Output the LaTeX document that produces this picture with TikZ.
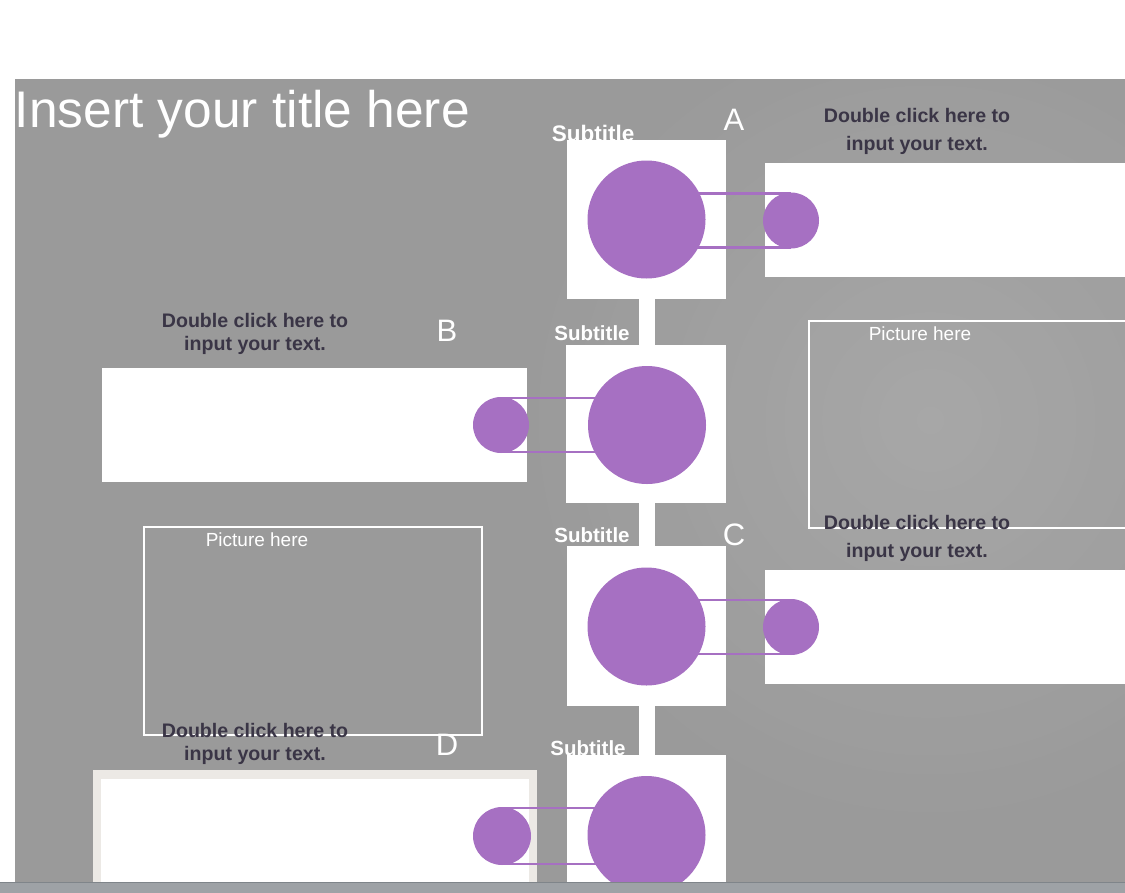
\documentclass[tikz,border=0pt]{standalone}
\usepackage{fontspec}
\setmainfont{Liberation Sans}
\definecolor{bggray}{HTML}{9A9A9A}
\definecolor{purp}{HTML}{A670C2}
\definecolor{darktxt}{HTML}{3A3546}
\definecolor{stripgray}{HTML}{9EA2A6}
\definecolor{stripline}{HTML}{7F858A}
\definecolor{framegray}{HTML}{ECE9E5}
\tikzset{
  sq/.style={fill=white, draw=none, minimum width=159pt, minimum height=159pt, inner sep=0pt},
  bigc/.style={circle, fill=purp, draw=none, minimum size=118pt, inner sep=0pt},
  smallc/.style={circle, fill=purp, draw=none, minimum size=56pt, inner sep=0pt},
  pline/.style={draw=purp, line width=2.5pt},
  bar/.style={draw=white, line width=16pt},
  wrect/.style={fill=white, draw=none, inner sep=0pt},
  pframe/.style={draw=white, line width=2pt},
  subt/.style={text=white, font=\bfseries\fontsize{20.5}{24}\selectfont, inner sep=0pt, anchor=base},
  letter/.style={text=white, font=\fontsize{31}{36}\selectfont, inner sep=0pt},
  dtxt/.style={text=darktxt, font=\bfseries\fontsize{19.6}{28}\selectfont, align=center, inner sep=0pt},
  dtxtb/.style={text=darktxt, font=\bfseries\fontsize{19.6}{23.5}\selectfont, align=center, inner sep=0pt},
  pictxt/.style={text=white, font=\fontsize{19}{22}\selectfont, inner sep=0pt},
}
\begin{document}
\begin{tikzpicture}[x=1pt,y=-1pt]
\useasboundingbox (0,0) rectangle (1125,892);
\clip (0,0) rectangle (1125,892);
\fill[white] (0,0) rectangle (1125,892);
\fill[bggray] (15,79) rectangle (1125,882);
\begin{scope}
\clip (15,79) rectangle (1125,882);
\shade[inner color=white!22!bggray, outer color=bggray, opacity=0.6] (930,420) circle (420);
\end{scope}

% title
\node[text=white, font=\fontsize{51.5}{58}\selectfont, anchor=base west, inner sep=0pt] (title) at (14.5,127) {Insert your title here};

% subtitles (behind squares)
\node[subt, font=\bfseries\fontsize{22.5}{26}\selectfont] (subA) at (593,141) {Subtitle};
\node[subt] (subB) at (592,340) {Subtitle};
\node[subt] (subC) at (592,542) {Subtitle};
\node[subt] (subD) at (588,755) {Subtitle};

% squares
\node[sq] (sqA) at (646.5,219.5) {};
\node[sq, minimum width=160pt, minimum height=158pt] (sqB) at (646,424) {};
\node[sq, minimum height=160pt] (sqC) at (646.5,626) {};
\node[sq] (sqD) at (646.5,834.5) {};

% white bars between squares
\draw[bar] ([xshift=0.5pt]sqA.south) -- ([xshift=1pt]sqB.north);
\draw[bar] ([xshift=1pt]sqB.south) -- ([xshift=0.5pt]sqC.north);
\draw[bar] ([xshift=0.5pt]sqC.south) -- ([xshift=0.5pt]sqD.north);

% white text rectangles
\node[wrect, minimum width=370pt, minimum height=114pt] (rA) at (950,220) {};
\node[wrect, minimum width=425pt, minimum height=114pt] (rB) at (314.5,425) {};
\node[wrect, minimum width=370pt, minimum height=114pt] (rC) at (950,627) {};
\node[fill=framegray, inner sep=0pt, minimum width=444pt, minimum height=124pt] (rDo) at (315,832) {};
\node[wrect, minimum width=428pt, minimum height=110pt] (rD) at (315,834) {};

% picture frames
\node[pframe, inner sep=0pt, minimum width=330pt, minimum height=207pt] (fR) at (974,424.5) {};
\node[pframe, inner sep=0pt, minimum width=338pt, minimum height=208pt] (fL) at (312.5,631) {};
\node[pictxt] (picR) at (920,334) {Picture here};
\node[pictxt] (picL) at (257,540) {Picture here};

% small circles
\node[smallc] (smA) at (791,220.5) {};
\node[smallc] (smB) at (501,425) {};
\node[smallc] (smC) at (791,627) {};
\node[smallc, minimum size=58pt] (smD) at (502,836) {};

% big circle centres
\coordinate (cA) at (646.5,219.5);
\coordinate (cB) at (647,425);
\coordinate (cC) at (646.5,626.5);
\coordinate (cD) at (646.5,835);

% purple connector lines
\draw[pline] ([yshift=-1pt]smA.north) -- ([yshift=-1pt]smA.north -| cA);
\draw[pline] ([yshift=1pt]smA.south) -- ([yshift=1pt]smA.south -| cA);
\draw[pline] ([yshift=-1pt]smB.north) -- ([yshift=-1pt]smB.north -| cB);
\draw[pline] ([yshift=1pt]smB.south) -- ([yshift=1pt]smB.south -| cB);
\draw[pline] ([yshift=-1pt]smC.north) -- ([yshift=-1pt]smC.north -| cC);
\draw[pline] ([yshift=1pt]smC.south) -- ([yshift=1pt]smC.south -| cC);
\draw[pline] ([yshift=-1pt]smD.north) -- ([yshift=-1pt]smD.north -| cD);
\draw[pline] ([yshift=1pt]smD.south) -- ([yshift=1pt]smD.south -| cD);

% big circles
\node[bigc] (bigA) at (cA) {};
\node[bigc] (bigB) at (cB) {};
\node[bigc] (bigC) at (cC) {};
\node[bigc] (bigD) at (cD) {};

% letters
\node[letter] (lA) at (734,120) {A};
\node[letter] (lB) at (447,331) {B};
\node[letter] (lC) at (734,535) {C};
\node[letter] (lD) at (447,745) {D};

% text labels
\node[dtxt] (tA) at (917,131) {Double click here to\\input your text.};
\node[dtxtb] (tB) at (255,334) {Double click here to\\input your text.};
\node[dtxt] (tC) at (917,538) {Double click here to\\input your text.};
\node[dtxtb] (tD) at (255,744) {Double click here to\\input your text.};

% bottom strip
\fill[stripgray] (0,882) rectangle (1125,900);
\draw[stripline, line width=1.5pt] (0,882.5) -- (1125,882.5);
\end{tikzpicture}
\end{document}
